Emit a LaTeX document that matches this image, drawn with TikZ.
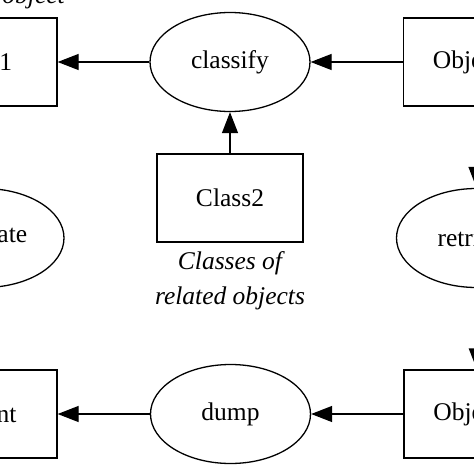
\documentclass[tikz,border=0pt]{standalone}
\usepackage{fontspec}
\setmainfont{Liberation Serif}
\usepackage{tikz}
\usetikzlibrary{arrows.meta,shapes.geometric}

\begin{document}
\begin{tikzpicture}
	[x=1pt,y=-1pt,-{Triangle[length=21pt,width=16pt]},line width=1.3pt,
		font=\fontsize{25.5}{35}\selectfont,node distance=246.5pt,
		box node/.style={rectangle,draw,minimum width=146pt,minimum height=88pt,inner sep=0pt},
		op node/.style={ellipse,draw,minimum width=160pt,minimum height=99pt,inner sep=0pt},
		note/.style={font=\fontsize{25.5}{35}\selectfont\itshape,align=center}]

	\useasboundingbox (0,0) rectangle (474,474);
	\clip (0,0) rectangle (474,474);

	\node[box node, minimum width=158pt]  at (-22,62)  (C1)  {Class1};
	\node[op node]   at (230,62)    (CL)    {classify};
	\node[box node]  [right of=CL]  (O1)    {Object 1};
	\node[box node]  [node distance=136pt, below of=CL]  (C2)  {Class2};
	\node[op node]   at (-16,238)   (GE)    {generate};
	\node[op node]   [node distance=176pt, below of=O1]  (RE)  {retrieve};
	\node[box node]  [node distance=176pt, below of=GE]  (PA)  {Parent};
	\node[op node]   [right of=PA]  (DU)    {dump};
	\node[box node]  [right of=DU]  (O2)    {Object 2};
	% notes
	\node[note]  [node distance=65pt, above of=C1, xshift=11pt]  (N1)  {Class of object};
	\node[note]  [node distance=82.5pt, below of=C2]  (N2)  {Classes of\\related objects};

	\path[]
	(CL) edge  (C1)
	(O1) edge  (CL)
	(C2) edge  (CL)
	(O1) edge  (RE)
	(RE) edge  (O2)
	(O2) edge  (DU)
	(DU) edge  (PA)
	;

\end{tikzpicture}
\end{document}
